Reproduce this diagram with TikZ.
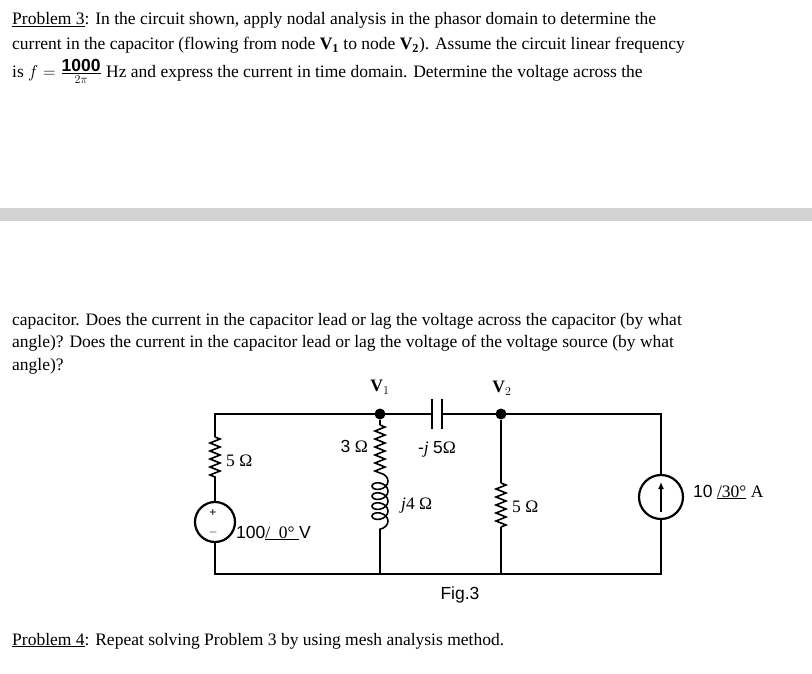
\documentclass[tikz,border=0pt]{standalone}
\usepackage{fontspec}
\setmainfont{Liberation Serif}
\newfontfamily\arialf{Liberation Sans}
\usetikzlibrary{decorations.pathmorphing,arrows.meta}
\tikzset{
  wire/.style={line width=2.2pt},
  res/.style={line width=1.6pt,decorate,decoration={zigzag,segment length=8pt,amplitude=5pt}},
  ind/.style={line width=1.6pt,decorate,decoration={coil,aspect=0.7,segment length=10pt,amplitude=8pt}},
  txt/.style={anchor=base west,inner sep=0pt,font=\fontsize{17.5}{21}\selectfont},
  lbl/.style={inner sep=0pt,font=\fontsize{17.5}{21}\selectfont},
  dot/.style={circle,fill,inner sep=0pt,minimum size=11pt}
}
\begin{document}
\begin{tikzpicture}[x=1pt,y=-1pt]
\useasboundingbox (0,0) rectangle (812,674);
\node[txt] (t1) at (12,25) {\underline{Problem 3}: In the circuit shown, apply nodal analysis in the phasor domain to determine the};
\node[txt] (t2) at (12,50) {current in the capacitor (flowing from node $\mathbf{V_1}$ to node $\mathbf{V_2}$). Assume the circuit linear frequency};
\node[txt] (t3) at (12,78) {is $f=\frac{\textsf{\bfseries\arialf 1000}}{2\pi}$ Hz and express the current in time domain. Determine the voltage across the};
\fill[gray!35] (0,208) rectangle (812,221);
\node[txt] (t4) at (12,325) {capacitor. Does the current in the capacitor lead or lag the voltage across the capacitor (by what};
\node[txt] (t5) at (12,347) {angle)? Does the current in the capacitor lead or lag the voltage of the voltage source (by what};
\node[txt] (t6) at (12,370) {angle)?};
\node[txt] (t7) at (12,645) {\underline{Problem 4}: Repeat solving Problem 3 by using mesh analysis method.};

% circuit
\coordinate (tl) at (215,414); \coordinate (tr) at (661,414);
\coordinate (bl) at (215,574); \coordinate (br) at (661,574);
\node[dot] (v1) at (380,414) {};
\node[dot] (v2) at (501,414) {};
\coordinate (c1) at (432,414); \coordinate (c2) at (442,414);
\draw[wire] (c1) -- (tl) -- (bl) -- (br) -- (tr) -- (c2);
\draw[wire] (432,399) -- (432,429) (442,399) -- (442,429);
% left branch
\draw[wire,white,line width=3pt] (215,437) -- (215,480);
\draw[res] (215,437) -- (215,480);
\node[circle,draw,line width=2.2pt,fill=white,minimum size=40pt,inner sep=0pt] (vs) at (215,522) {};
\node[font=\fontsize{12}{12}\selectfont\arialf] at (213,513) {+};
\node[font=\fontsize{12}{12}\selectfont\arialf] at (213,532) {$-$};
% middle branch
\draw[wire,white,line width=3pt] (380,420) -- (380,533);
\draw[line width=2pt] (v1) -- (380,425);
\draw[res] (380,425) -- (380,473);
\draw[ind] (380,473) -- (380,533);
\draw[wire] (380,533) -- (380,574);
% right resistor
\draw[wire] (v2) -- (501,483) (501,527) -- (501,574);
\draw[res] (501,483) -- (501,527);
% current source
\node[circle,draw,line width=2.2pt,fill=white,minimum size=44pt,inner sep=0pt] (cs) at (661,497) {};
\draw[line width=1.6pt,-{Latex[length=7pt,width=6pt]}] (661,512) -- (661,482);
% labels
\node[lbl] (lv1) at (380,387) {$\mathbf{V}_1$};
\node[lbl] (lv2) at (502,388) {$\mathbf{V}_2$};
\node[lbl,anchor=west] at (226,461) {5 Ω};
\node[lbl,anchor=east] at (368,446) {{\arialf 3} Ω};
\node[lbl] at (437,449) {{\arialf -}\textit{j} {\arialf 5}Ω};
\node[lbl,anchor=west] at (401,506) {\textit{j}4 Ω};
\node[lbl,anchor=west] at (512,507) {5 Ω};
\node[lbl,anchor=west] at (236,533) {{\arialf 100}\underline{/\ \ 0°\ }{\arialf V}};
\node[lbl,anchor=west] at (693,492) {{\arialf 10} \underline{/30°} A};
\node[lbl,font=\fontsize{17.5}{21}\selectfont\arialf] at (460,595) {Fig.3};
\end{tikzpicture}
\end{document}
